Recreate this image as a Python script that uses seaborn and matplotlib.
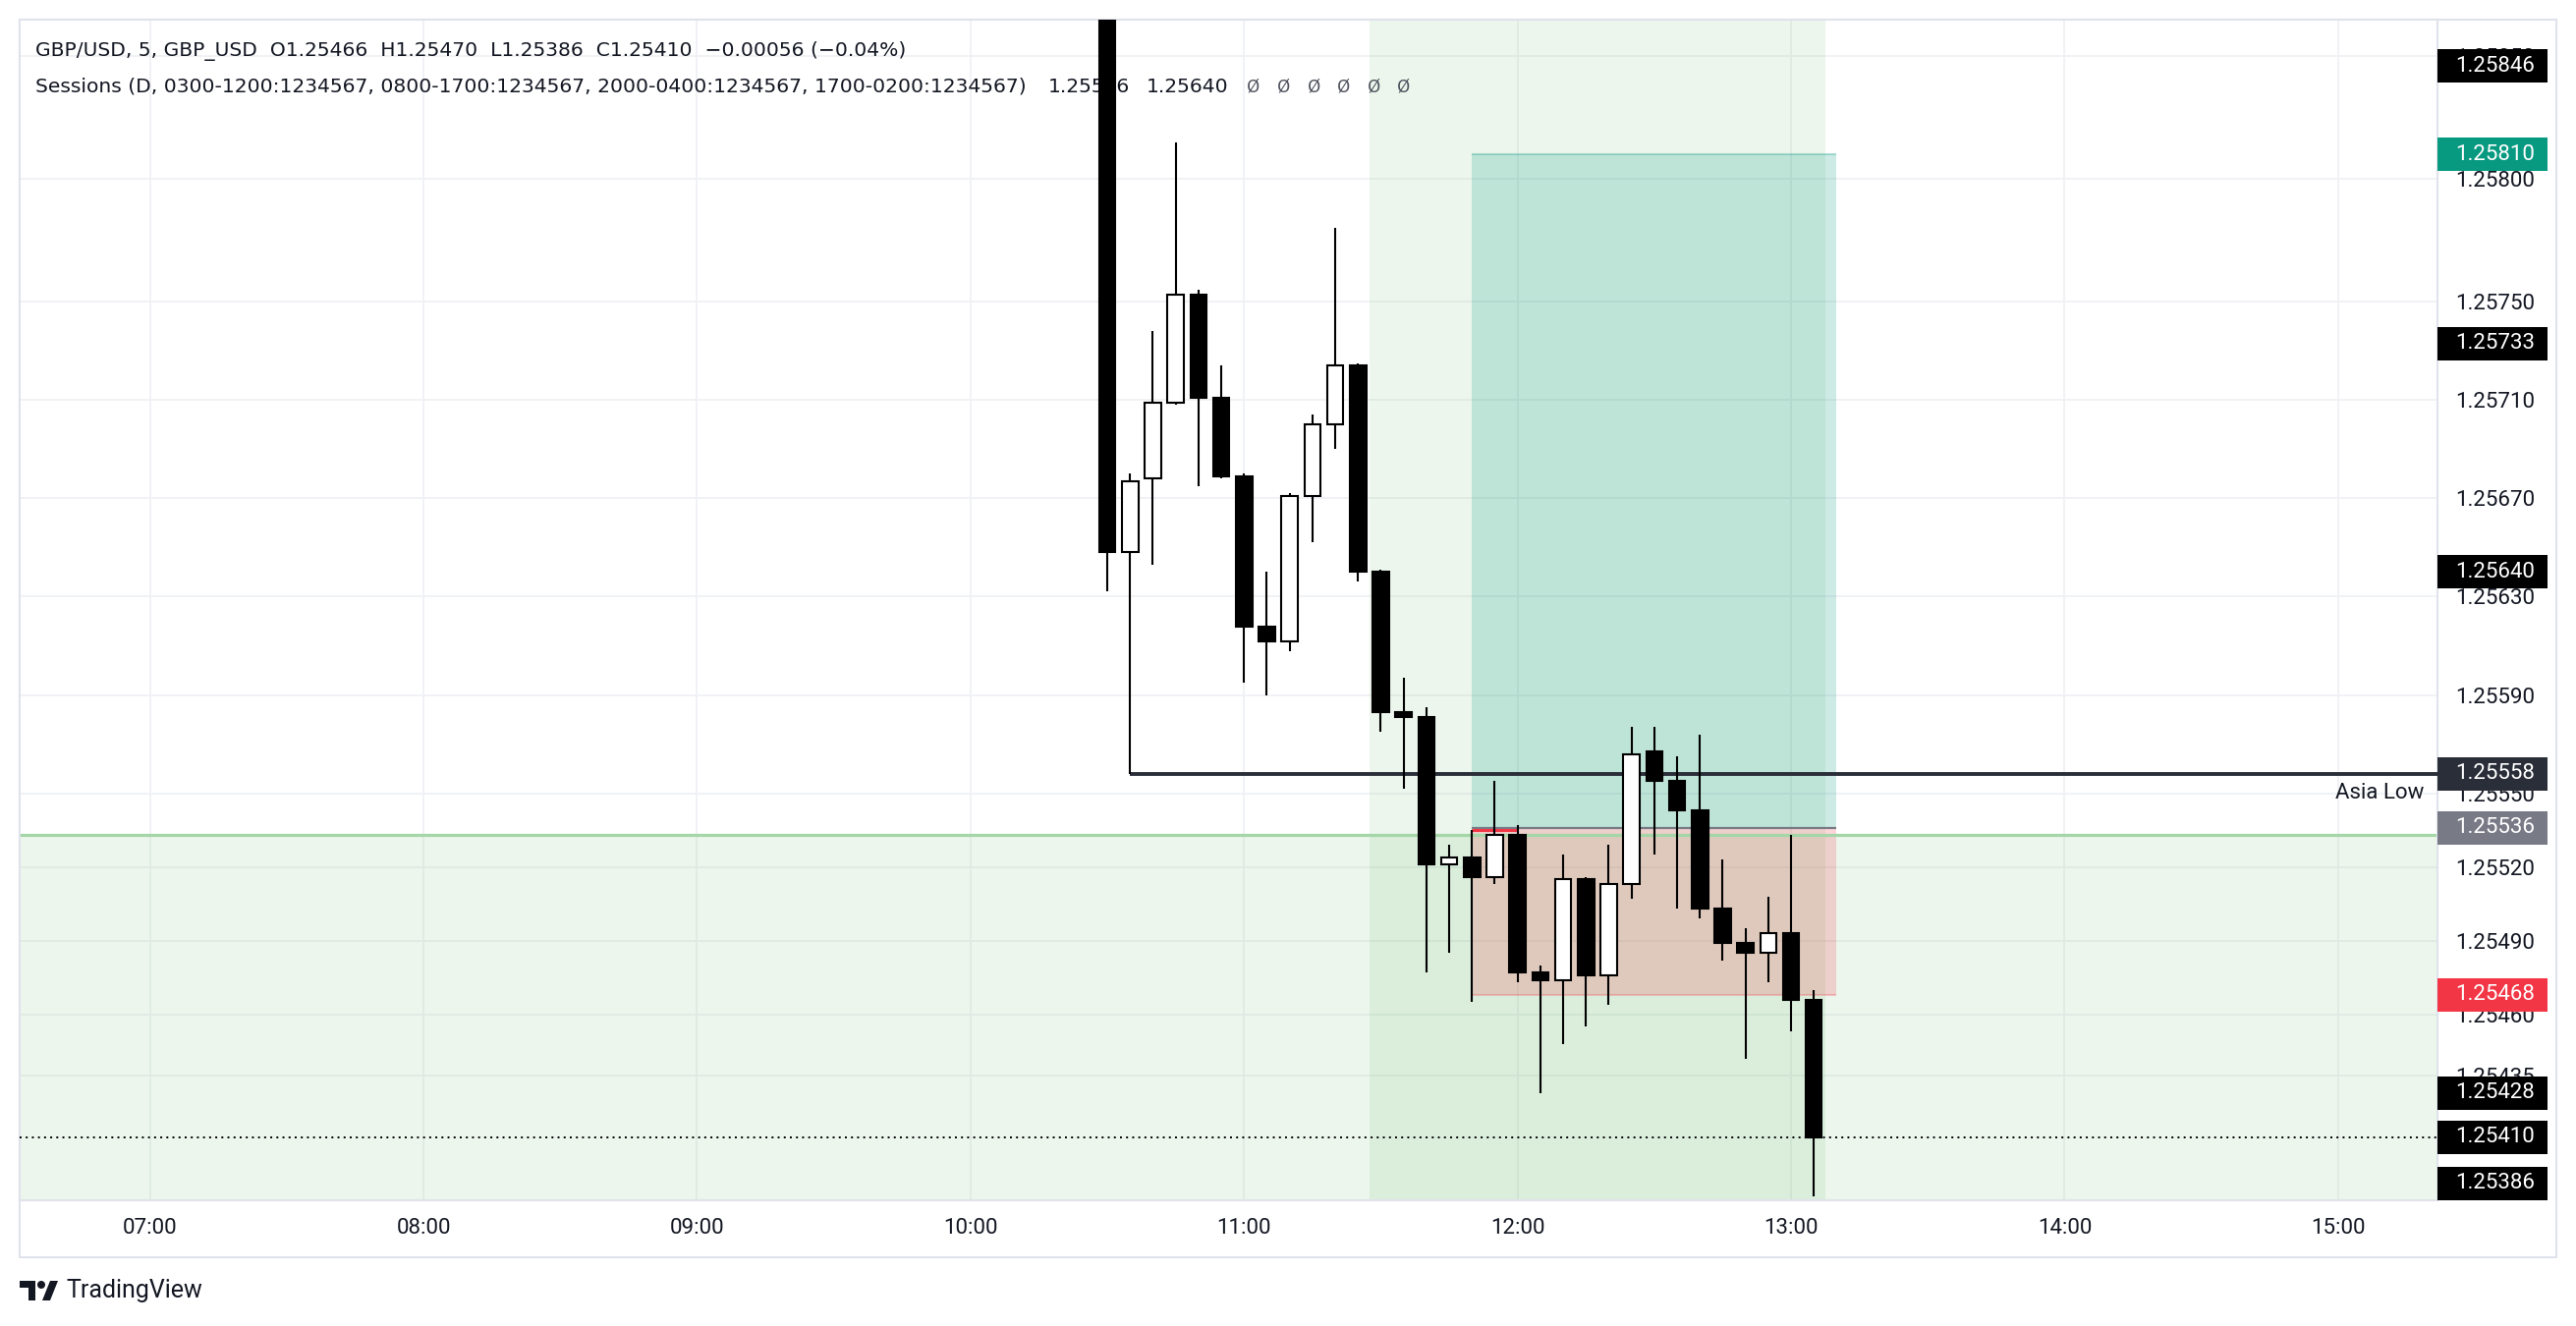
import numpy as np
import pandas as pd
import seaborn as sns
import matplotlib
matplotlib.use("Agg")
import matplotlib.pyplot as plt
import matplotlib.transforms as mtransforms
from matplotlib.patches import Rectangle, Polygon, Circle

# ---------------- data ----------------
times = ["10:30", "10:35", "10:40", "10:45", "10:50", "10:55", "11:00", "11:05",
         "11:10", "11:15", "11:20", "11:25", "11:30", "11:35", "11:40", "11:45",
         "11:50", "11:55", "12:00", "12:05", "12:10", "12:15", "12:20", "12:25",
         "12:30", "12:35", "12:40", "12:45", "12:50", "12:55", "13:00", "13:05"]
opens = [1.25900, 1.25648, 1.25678, 1.25709, 1.25753, 1.25711, 1.25679, 1.25618,
         1.25612, 1.25671, 1.25700, 1.25724, 1.25640, 1.25583, 1.25581, 1.25521,
         1.25524, 1.25516, 1.25533, 1.25477, 1.25474, 1.25515, 1.25476, 1.25513,
         1.25567, 1.25555, 1.25543, 1.25503, 1.25489, 1.25485, 1.25493, 1.25466]
highs = [1.25905, 1.25680, 1.25738, 1.25815, 1.25755, 1.25724, 1.25680, 1.25640,
         1.25672, 1.25704, 1.25780, 1.25725, 1.25641, 1.25597, 1.25585, 1.25529,
         1.25535, 1.25555, 1.25537, 1.25480, 1.25525, 1.25516, 1.25529, 1.25577,
         1.25577, 1.25565, 1.25574, 1.25523, 1.25495, 1.25508, 1.25533, 1.25470]
lows = [1.25632, 1.25558, 1.25643, 1.25708, 1.25675, 1.25678, 1.25595, 1.25590,
        1.25608, 1.25652, 1.25690, 1.25636, 1.25575, 1.25552, 1.25477, 1.25485,
        1.25465, 1.25513, 1.25473, 1.25428, 1.25448, 1.25455, 1.25464, 1.25507,
        1.25525, 1.25503, 1.25499, 1.25482, 1.25442, 1.25473, 1.25453, 1.25386]
closes = [1.25648, 1.25677, 1.25709, 1.25753, 1.25711, 1.25679, 1.25618, 1.25612,
          1.25671, 1.25700, 1.25724, 1.25640, 1.25583, 1.25581, 1.25521, 1.25524,
          1.25516, 1.25533, 1.25477, 1.25474, 1.25515, 1.25476, 1.25513, 1.25566,
          1.25555, 1.25543, 1.25503, 1.25489, 1.25485, 1.25493, 1.25466, 1.25410]

hour_labels = ["07:00", "08:00", "09:00", "10:00", "11:00", "12:00", "13:00", "14:00", "15:00"]
price_ticks = [1.25850, 1.25800, 1.25750, 1.25710, 1.25670, 1.25630, 1.25590,
               1.25550, 1.25520, 1.25490, 1.25460, 1.25435]

asia_low = 1.25558
asia_low_start = "10:35"
green_level = 1.25533
session_start, session_end = "11:30", "13:05"
pos_start, pos_end = "11:50", "13:10"
entry, target, stop = 1.25536, 1.25810, 1.25468
last_price = 1.25410

tag_values = [1.25846, 1.25810, 1.25733, 1.25640, 1.25558, 1.25536, 1.25468, 1.25428, 1.25410, 1.25386]
tag_colors = ["#000000", "#089981", "#000000", "#000000", "#2a2e39", "#787b86", "#f23645",
              "#000000", "#000000", "#000000"]

header1 = "GBP/USD, 5, GBP_USD  O1.25466  H1.25470  L1.25386  C1.25410  \u22120.00056 (\u22120.04%)"
header2 = "Sessions (D, 0300-1200:1234567, 0800-1700:1234567, 2000-0400:1234567, 1700-0200:1234567)"
header2_values = ["1.25536", "1.25640"]


def to_min(s):
    h, m = s.split(":")
    return int(h) * 60 + int(m)


df = pd.DataFrame({"t": [to_min(t) for t in times], "open": opens, "high": highs,
                   "low": lows, "close": closes})

# ---------------- style ----------------
sns.set_theme(style="white")
plt.rcParams["font.family"] = ["Roboto", "DejaVu Sans"]
TXT = "#131722"
GRID = "#f0f1f5"
BORDER = "#e0e3eb"
HFONT = ["DejaVu Sans"]
HSIZE = 14.6

W, H = 2622, 1350
fig = plt.figure(figsize=(W / 100, H / 100), dpi=100)
fig.patch.set_facecolor("white")

# overlay in pixel coordinates (frame, logo, header positions)
ov = fig.add_axes([0, 0, 1, 1], zorder=-1)
ov.set_xlim(0, W)
ov.set_ylim(H, 0)
ov.axis("off")
ov.add_patch(Rectangle((20, 20), 2582, 1260, fill=False, ec=BORDER, lw=1.5))

ax = fig.add_axes([20 / W, 1 - 1222 / H, 2461 / W, 1202 / H], zorder=1)
ax.set_facecolor("white")
ax.set_xlim(391.4, 921.8)
ax.set_ylim(1.253843, 1.258649)

# grid
hour_mins = [to_min(h) for h in hour_labels]
ax.set_xticks(hour_mins)
ax.set_xticklabels(hour_labels)
ax.set_yticks(price_ticks)
ax.set_yticklabels([f"{p:.5f}" for p in price_ticks])
ax.grid(True, color=GRID, lw=1.3)
ax.set_axisbelow(True)
ax.yaxis.tick_right()
ax.tick_params(axis="y", length=0, pad=13, labelsize=16, labelcolor=TXT)
ax.tick_params(axis="x", length=0, pad=13, labelsize=16, labelcolor=TXT)
for s in ax.spines.values():
    s.set_color(BORDER)
    s.set_linewidth(1.5)

# backgrounds
xl = ax.get_xlim()
yl = ax.get_ylim()
ax.add_patch(Rectangle((xl[0], yl[0]), xl[1] - xl[0], green_level - yl[0],
                       fc="#4caf50", alpha=0.1, lw=0, zorder=1))
ax.axvspan(to_min(session_start) - 2.5, to_min(session_end) + 2.5, color="#4caf50",
           alpha=0.1, lw=0, zorder=1)
ax.hlines(green_level, xl[0], xl[1], color="#a5d6a7", lw=2.3, zorder=2)

# position tool
px0, px1 = to_min(pos_start), to_min(pos_end)
ax.add_patch(Rectangle((px0, entry), px1 - px0, target - entry, fc="#089981", alpha=0.2,
                       lw=0, zorder=1.5))
ax.add_patch(Rectangle((px0, stop), px1 - px0, entry - stop, fc="#f23645", alpha=0.2,
                       lw=0, zorder=1.5))
ax.hlines(target, px0, px1, color="#089981", alpha=0.3, lw=1.5, zorder=1.6)
ax.hlines(stop, px0, px1, color="#f23645", alpha=0.25, lw=1.5, zorder=1.6)
ax.hlines(entry, px0, px1, color="#787b86", lw=1.6, zorder=2.1)
ax.hlines(entry - 0.000008, px0, px0 + 10, color="#f23645", lw=2.2, zorder=2.2)

# header (drawn below candles)
ax.text(36, 52, header1, transform=ov.transData, fontsize=HSIZE, color=TXT, family=HFONT,
        va="center", ha="left", zorder=2, clip_on=False)
ax.text(36, 88, header2, transform=ov.transData, fontsize=HSIZE, color=TXT, family=HFONT,
        va="center", ha="left", zorder=2, clip_on=False)
ax.text(1067, 88, header2_values[0], transform=ov.transData, fontsize=HSIZE, color=TXT,
        family=HFONT, va="center", ha="left", zorder=2, clip_on=False)
ax.text(1167, 88, header2_values[1], transform=ov.transData, fontsize=HSIZE, color=TXT,
        family=HFONT, va="center", ha="left", zorder=2, clip_on=False)
for i in range(6):
    ax.text(1276 + i * 30.6, 88, "\u00d8", transform=ov.transData, fontsize=14,
            color="#50535e", va="center", ha="center", zorder=2, clip_on=False)

# asia low line and dotted last price
ax.hlines(asia_low, to_min(asia_low_start), xl[1], color="#2a2e39", lw=2.8, zorder=3)
ax.axhline(last_price, color="black", lw=1.4, ls=(0, (1, 2.2)), zorder=3)
blend = mtransforms.blended_transform_factory(ax.transAxes, ax.transData)
ax.annotate("Asia Low", xy=(1.0, asia_low), xycoords=blend, xytext=(-9.5, -14.5),
            textcoords="offset points", ha="right", va="center", fontsize=16,
            color=TXT, zorder=5)

# candles
up = df["close"] >= df["open"]
body_lo = np.minimum(df["open"], df["close"])
body_h = np.maximum(np.abs(df["close"] - df["open"]), 0.000006)
ax.vlines(df["t"], df["low"], df["high"], color="black", lw=1.5, zorder=4)
ax.bar(df["t"][up], body_h[up], bottom=body_lo[up], width=3.55, color="white",
       edgecolor="black", linewidth=1.5, zorder=4.5)
ax.bar(df["t"][~up], body_h[~up], bottom=body_lo[~up], width=3.55, color="black",
       edgecolor="black", linewidth=1.5, zorder=4.5)

# price tags on the scale
fig.canvas.draw()
px_per_price = ax.transData.transform([(0, 1.0)])[0][1] - ax.transData.transform([(0, 0.0)])[0][1]
half = 17 / px_per_price
box_w = 112 / 2461
for v, c in zip(tag_values, tag_colors):
    yc = min(max(v, yl[0] + half), yl[1] - half)
    ax.add_patch(Rectangle((1.0, yc - half), box_w, 2 * half, transform=blend, fc=c,
                           ec="none", clip_on=False, zorder=10))
    ax.text(1.0 + 18 / 2461, yc, f"{v:.5f}", transform=blend, fontsize=16, color="white",
            va="center", ha="left", clip_on=False, zorder=11)

# TradingView logo
ov.add_patch(Rectangle((20, 1304), 16, 7, fc=TXT, ec="none"))
ov.add_patch(Rectangle((29, 1304), 7, 20, fc=TXT, ec="none"))
ov.add_patch(Circle((42, 1308), 4, fc=TXT, ec="none"))
ov.add_patch(Polygon([(43, 1324), (51, 1324), (59, 1304), (51, 1304)], closed=True,
                     fc=TXT, ec="none"))
ov.text(67, 1314, "TradingView", fontsize=18, color=TXT, va="center", ha="left")

fig.savefig("out.png", dpi=100, facecolor="white")
